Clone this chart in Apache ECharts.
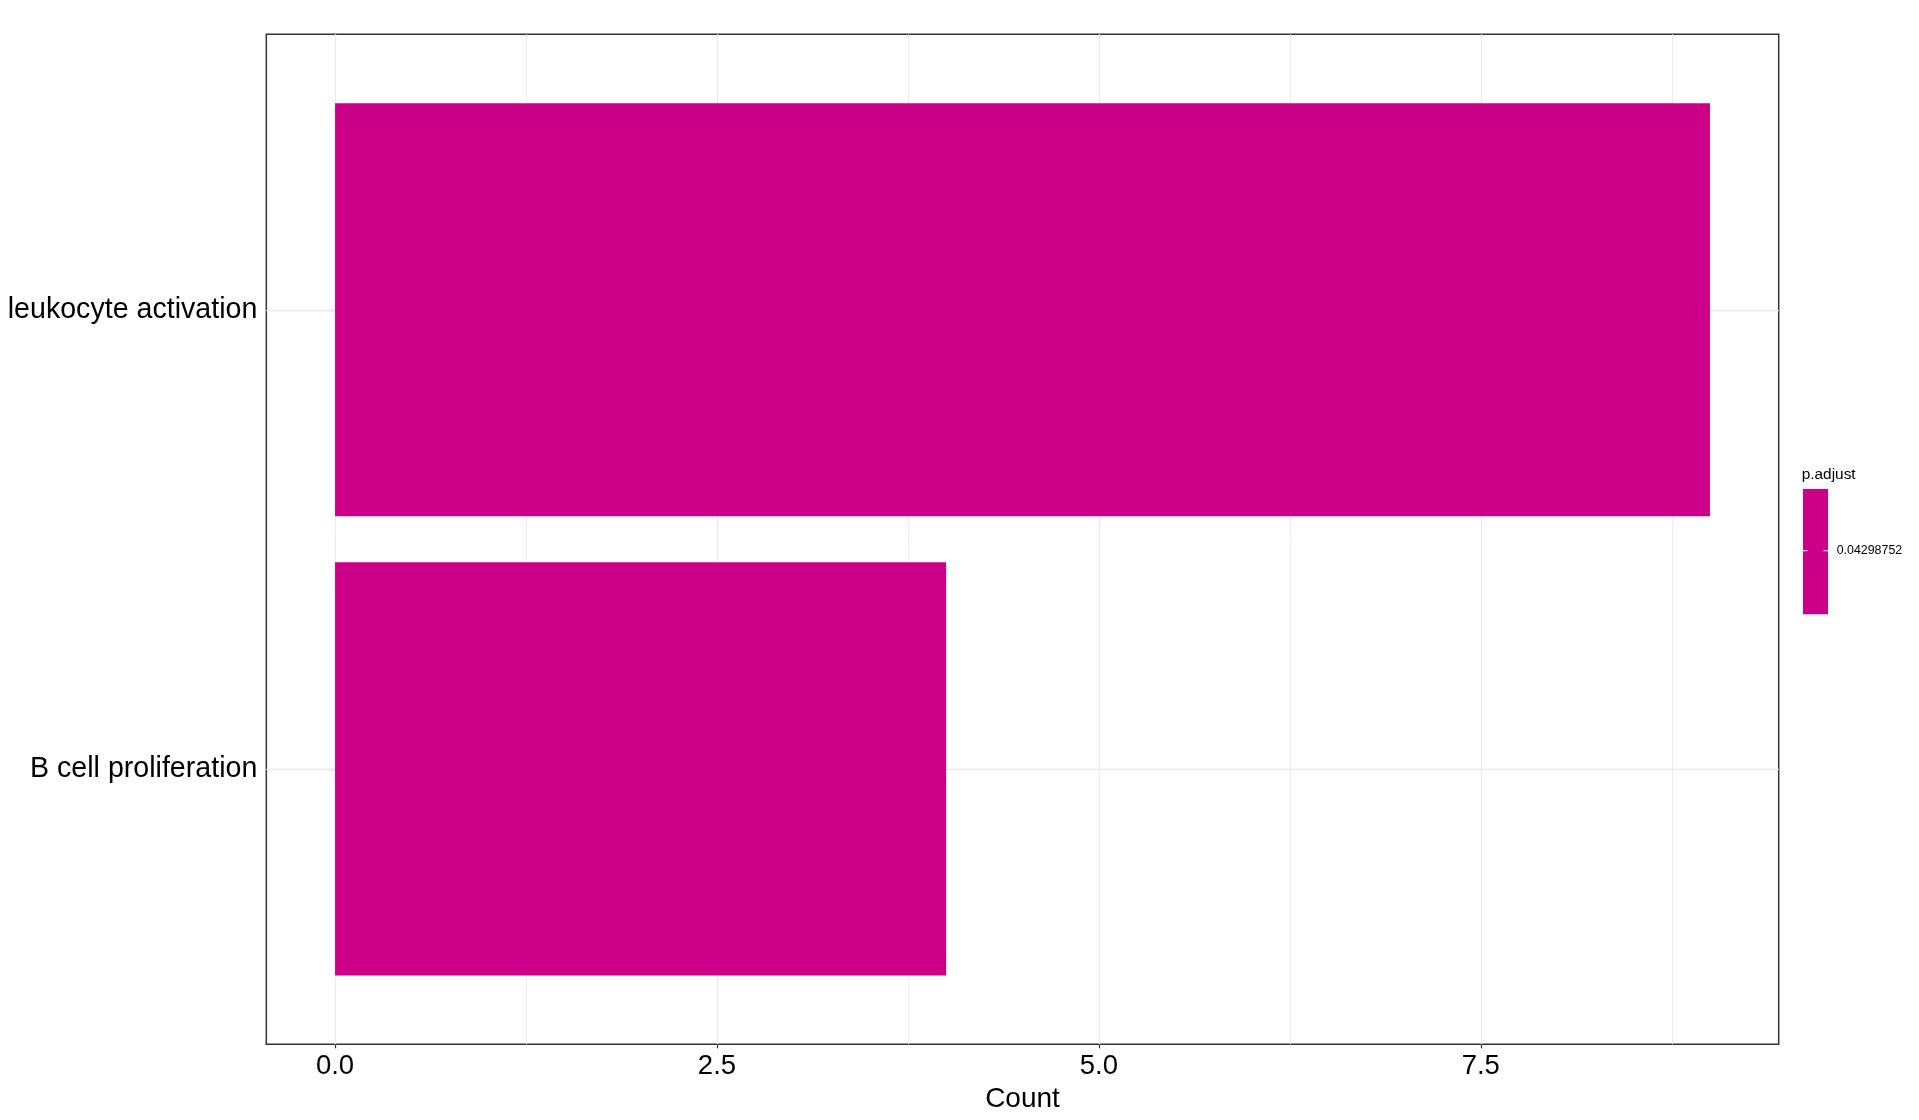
<!DOCTYPE html>
<html>
<head>
<meta charset="utf-8">
<script src="https://cdn.jsdelivr.net/npm/echarts@6/dist/echarts.min.js"></script>
<style>
html,body{margin:0;padding:0;background:#fff;}
#chart{width:1919px;height:1120px;}
</style>
</head>
<body>
<div id="chart"></div>
<script>
// ---- data ----
const categories = ['B cell proliferation', 'leukocyte activation'];
const counts = [4, 9];
const pAdjust = [0.04298752, 0.04298752];
const xTicks = [0, 2.5, 5, 7.5];
const xMinor = [1.25, 3.75, 6.25, 8.75];
const legendLabels = ['0.04298752'];

const FONT = 'Liberation Sans, Arial, sans-serif';
const BAR_COLOR = '#CC0088';
const GRID_COLOR = '#EBEBEB';

const yPos = categories.map((c, i) => i + 1);
const barData = counts.map((v, i) => [v, yPos[i], pAdjust[i]]);

const chart = echarts.init(document.getElementById('chart'), null, {renderer: 'canvas'});

const gridLeft = 266.3, gridRight = 140.3, gridTop = 34.3, gridBottom = 75.7;

const option = {
  backgroundColor: '#fff',
  animation: false,
  grid: {
    left: gridLeft, right: gridRight, top: gridTop, bottom: gridBottom,
    show: true, borderColor: '#333333', borderWidth: 1.5, backgroundColor: 'transparent'
  },
  xAxis: {
    type: 'value', min: -0.45, max: 9.45,
    name: 'Count', nameLocation: 'middle', nameGap: 39,
    nameTextStyle: {fontFamily: FONT, fontSize: 28, color: '#000'},
    axisLine: {show: false},
    axisTick: {show: true, customValues: xTicks, length: 4, lineStyle: {color: '#333', width: 1.2}},
    axisLabel: {customValues: xTicks, fontFamily: FONT, fontSize: 27.5, color: '#000', margin: 8,
      formatter: v => Number(v).toFixed(1)},
    splitLine: {show: false}
  },
  yAxis: {
    type: 'value', min: 0.4, max: 2.6,
    axisLine: {show: false},
    axisTick: {show: true, customValues: yPos, length: 4, lineStyle: {color: '#333', width: 1.2}},
    axisLabel: {customValues: yPos, fontFamily: FONT, fontSize: 28.6, color: '#000', margin: 9,
      formatter: v => categories[Math.round(v) - 1] || ''},
    splitLine: {show: false}
  },
  series: [
    {
      type: 'line', data: [], z: 1, silent: true,
      markLine: {
        silent: true, symbol: 'none', animation: false, z: 1,
        label: {show: false},
        data: [
          ...xTicks.map(v => ({xAxis: v, lineStyle: {color: GRID_COLOR, width: 1.3, type: 'solid'}})),
          ...xMinor.map(v => ({xAxis: v, lineStyle: {color: GRID_COLOR, width: 0.9, type: 'solid'}})),
          ...yPos.map(v => ({yAxis: v, lineStyle: {color: GRID_COLOR, width: 1.3, type: 'solid'}}))
        ]
      }
    },
    {
      type: 'custom', z: 20,
      data: barData,
      encode: {x: 0, y: 1},
      renderItem: function (params, api) {
        const x = api.value(0), y = api.value(1);
        const p0 = api.coord([0, y + 0.45]);
        const p1 = api.coord([x, y - 0.45]);
        return {
          type: 'rect',
          shape: {x: p0[0], y: p0[1], width: p1[0] - p0[0], height: p1[1] - p0[1]},
          style: {fill: BAR_COLOR}
        };
      }
    }
  ],
  graphic: [
    {type: 'text', left: 1801.7, top: 467, style: {text: 'p.adjust', font: '15.4px ' + FONT, fill: '#000'}},
    {type: 'rect', shape: {x: 1803, y: 489, width: 25, height: 125.3}, style: {fill: BAR_COLOR}},
    {type: 'line', shape: {x1: 1803, y1: 550.7, x2: 1807.5, y2: 550.7}, style: {stroke: '#fff', lineWidth: 1}},
    {type: 'line', shape: {x1: 1823.5, y1: 550.7, x2: 1828, y2: 550.7}, style: {stroke: '#fff', lineWidth: 1}},
    {type: 'text', x: 1836.7, y: 551, style: {text: legendLabels[0], font: '12.4px ' + FONT, fill: '#000', verticalAlign: 'middle'}}
  ]
};
chart.setOption(option);
</script>
</body>
</html>
